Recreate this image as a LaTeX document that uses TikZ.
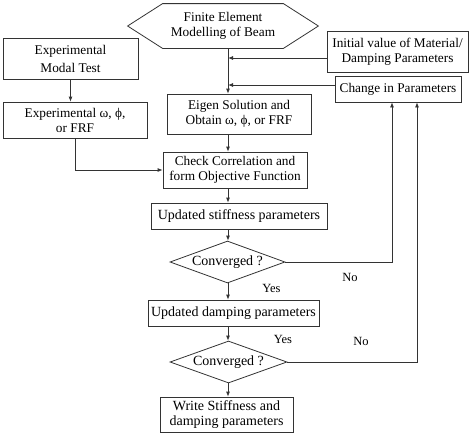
\documentclass[tikz,border=0pt]{standalone}
\usepackage{fontspec}
\setmainfont{Liberation Serif}
\usetikzlibrary{arrows.meta,shapes.geometric,calc}

\tikzset{
  box/.style={draw=black!80, line width=0.8pt, inner sep=0pt, align=center,
    font=\fontsize{13.3}{15}\selectfont},
  bigbox/.style={box, font=\fontsize{14}{15}\selectfont},
  decision/.style={bigbox, diamond, aspect=2.7},
  arr/.style={draw=black!80, line width=0.8pt, -{Latex[length=5pt,width=4pt]}},
  line/.style={draw=black!80, line width=0.8pt},
  lbl/.style={inner sep=0pt, font=\fontsize{12.5}{15}\selectfont}
}

\begin{document}
\begin{tikzpicture}[x=1pt,y=-1pt]
  \useasboundingbox (0,0) rectangle (474,440);
  \coordinate (spine) at (228,0);

  % top of the chart
  \node[box, draw=none, minimum width=120, minimum height=44] (fem) at (223,26) {Finite Element\\Modelling of Beam};
  \draw[line] ([xshift=-35pt]fem.west) -- (fem.north west) -- (fem.north east)
    -- ([xshift=35pt]fem.east) -- (fem.south east) -- (fem.south west) -- cycle;
  \node[box, minimum width=135, minimum height=41, font=\fontsize{13.3}{18}\selectfont] (modal) at (70.5,58.5) {Experimental\\Modal Test};
  \node[box, minimum width=144, minimum height=36] (expw) at (75,120) {Experimental ω, ϕ,\\or FRF};
  \node[box, minimum width=141, minimum height=41] (initv) at (397.5,51.5) {Initial value of Material/\\Damping Parameters};
  \node[box, minimum width=126, minimum height=26] (change) at (398,89) {Change in Parameters};
  \node[box, minimum width=144, minimum height=40] (eigen) at (239,114) {Eigen Solution and\\Obtain ω, ϕ, or FRF};
  \node[box, minimum width=144, minimum height=36] (check) at (235,170) {Check Correlation and\\form Objective Function};

  % updating loop
  \node[bigbox, minimum width=176, minimum height=26] (stiff) at (239,216) {Updated stiffness parameters};
  \node[decision, minimum width=115, minimum height=42] (conv1) at (227.5,262) {Converged ?};
  \node[bigbox, minimum width=171, minimum height=26] (damp) at (233.5,313) {Updated damping parameters};
  \node[decision, minimum width=117, minimum height=42] (conv2) at (228.5,362) {Converged ?};
  \node[bigbox, minimum width=133, minimum height=35] (write) at (226.5,414.5) {Write Stiffness and\\damping parameters};

  \node[lbl] (yes1) at (271.5,288) {Yes};
  \node[lbl] (no1) at (350,277) {No};
  \node[lbl] (yes2) at (283,339) {Yes};
  \node[lbl] (no2) at (361,341) {No};

  % connectors
  \draw[arr] (fem.south -| spine) -- (eigen.north -| spine);
  \draw[arr] ([yshift=-6.5pt]initv.west) -- ([yshift=-6.5pt]initv.west -| spine);
  \draw[arr] ([yshift=4pt]change.west) -- ([yshift=4pt]change.west -| spine);
  \draw[arr] (modal.south) -- (modal.south |- expw.north);
  \draw[arr] (expw.south) |- (check.west);
  \draw[arr] (eigen.south -| spine) -- (check.north -| spine);
  \draw[arr] (check.south -| spine) -- (stiff.north -| spine);
  \draw[arr] (stiff.south -| spine) -- (conv1.north -| spine);
  \draw[arr] (conv1.south -| spine) -- (damp.north -| spine);
  \draw[arr] (damp.south -| spine) -- (conv2.north -| spine);
  \draw[arr] (conv2.south -| spine) -- (write.north -| spine);
  \draw[arr] (conv1.east) -| ([xshift=-6pt]change.south);
  \draw[arr] (conv2.east) -| ([xshift=19pt]change.south);
\end{tikzpicture}
\end{document}
